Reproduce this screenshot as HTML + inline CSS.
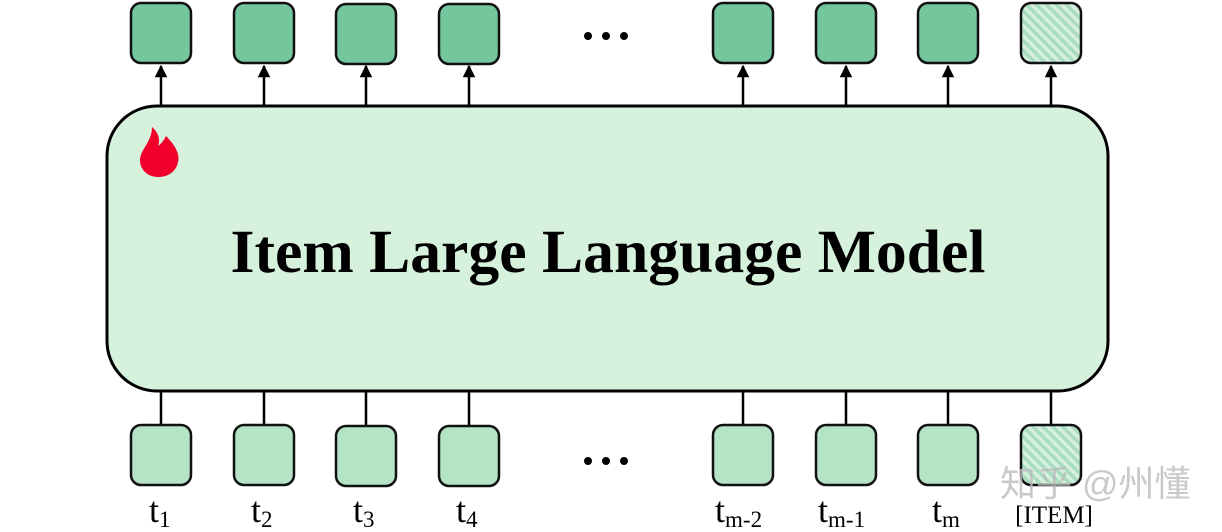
<html><body style="margin:0;background:#fff;width:1222px;height:532px;overflow:hidden">
<svg width="1222" height="532" xmlns="http://www.w3.org/2000/svg" font-family="Liberation Serif, serif">
<defs>
<pattern id="h" width="7" height="7" patternUnits="userSpaceOnUse" patternTransform="rotate(-45)">
<rect width="7" height="7" fill="#d6f0de"/><rect width="3.5" height="7" fill="#a9dcc0"/></pattern>
<marker id="a" viewBox="0 0 10 10" refX="9" refY="5" markerWidth="5" markerHeight="5" orient="auto"><path d="M0,0L10,5L0,10z" fill="#000"/></marker>
</defs>
<rect x="107" y="106" width="1001" height="285" rx="50" fill="#d6f2dd" stroke="#000" stroke-width="3"/>
<g stroke="#000" stroke-width="2.5">
<line x1="161" y1="106" x2="161" y2="66" marker-end="url(#a)"/>
<line x1="264" y1="106" x2="264" y2="66" marker-end="url(#a)"/>
<line x1="366" y1="106" x2="366" y2="66" marker-end="url(#a)"/>
<line x1="469" y1="106" x2="469" y2="66" marker-end="url(#a)"/>
<line x1="743" y1="106" x2="743" y2="66" marker-end="url(#a)"/>
<line x1="846" y1="106" x2="846" y2="66" marker-end="url(#a)"/>
<line x1="948" y1="106" x2="948" y2="66" marker-end="url(#a)"/>
<line x1="1051" y1="106" x2="1051" y2="66" marker-end="url(#a)"/>
<line x1="161" y1="391" x2="161" y2="425"/><line x1="264" y1="391" x2="264" y2="425"/>
<line x1="366" y1="391" x2="366" y2="425"/><line x1="469" y1="391" x2="469" y2="425"/>
<line x1="743" y1="391" x2="743" y2="425"/><line x1="846" y1="391" x2="846" y2="425"/>
<line x1="948" y1="391" x2="948" y2="425"/><line x1="1051" y1="391" x2="1051" y2="425"/>
</g>
<g stroke="#111" stroke-width="2.5" fill="#74c69d">
<rect x="131" y="3" width="60" height="60" rx="10"/><rect x="234" y="3" width="60" height="60" rx="10"/>
<rect x="336" y="4" width="60" height="60" rx="10"/><rect x="439" y="4" width="60" height="60" rx="10"/>
<rect x="713" y="3" width="60" height="60" rx="10"/><rect x="816" y="3" width="60" height="60" rx="10"/>
<rect x="918" y="3" width="60" height="60" rx="10"/><rect x="1021" y="3" width="60" height="60" rx="10" fill="url(#h)"/>
</g>
<g stroke="#111" stroke-width="2.5" fill="#b5e3c5">
<rect x="131" y="425" width="60" height="60" rx="10"/><rect x="234" y="425" width="60" height="60" rx="10"/>
<rect x="336" y="426" width="60" height="60" rx="10"/><rect x="439" y="426" width="60" height="60" rx="10"/>
<rect x="713" y="425" width="60" height="60" rx="10"/><rect x="816" y="425" width="60" height="60" rx="10"/>
<rect x="918" y="425" width="60" height="60" rx="10"/><rect x="1021" y="425" width="60" height="60" rx="10" fill="url(#h)"/>
</g>
<g fill="#000"><circle cx="588" cy="36" r="4"/><circle cx="606" cy="36" r="4"/><circle cx="624" cy="36" r="4"/>
<circle cx="588" cy="461" r="4"/><circle cx="606" cy="461" r="4"/><circle cx="624" cy="461" r="4"/></g>
<path d="M152,127 C160,134 160,142 158,146 C162,143 164,140 166,136 C176,146 180,155 178,162 C176,172 168,177 158,177 C148,177 140,170 140,160 C140,150 152,142 152,127z" fill="#f0002a"/>
<text x="608" y="272" text-anchor="middle" font-size="61" font-weight="bold" textLength="755" lengthAdjust="spacingAndGlyphs">Item Large Language Model</text>
<g font-size="36">
<text x="149" y="522">t<tspan font-size="23" dy="5">1</tspan></text>
<text x="251" y="522">t<tspan font-size="23" dy="5">2</tspan></text>
<text x="353" y="522">t<tspan font-size="23" dy="5">3</tspan></text>
<text x="456" y="522">t<tspan font-size="23" dy="5">4</tspan></text>
<text x="715" y="522">t<tspan font-size="23" dy="5">m-2</tspan></text>
<text x="818" y="522">t<tspan font-size="23" dy="5">m-1</tspan></text>
<text x="932" y="522">t<tspan font-size="23" dy="5">m</tspan></text>
</g>
<text x="1054" y="523" text-anchor="middle" font-size="25">[ITEM]</text>
<text x="1000" y="496" font-size="36" fill="#bbb" fill-opacity="0.8" font-family="Liberation Sans, Noto Sans CJK SC, sans-serif">知乎 @州懂</text>
</svg>
</body></html>
